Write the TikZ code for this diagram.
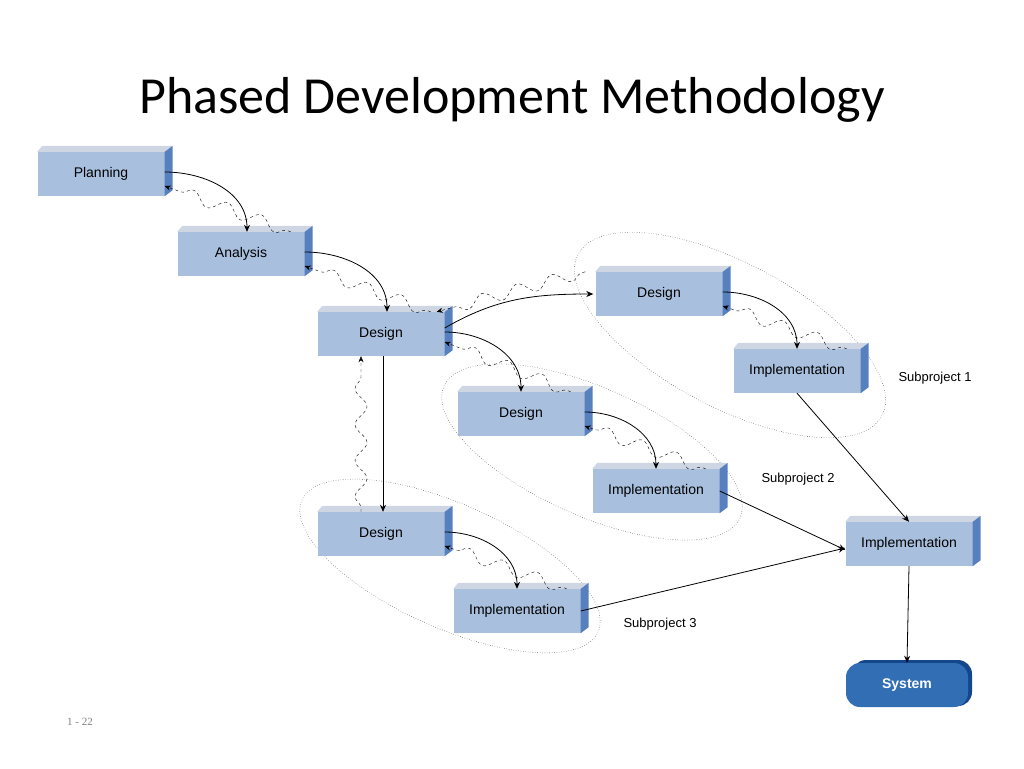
\documentclass[tikz,border=0pt]{standalone}
\usepackage{fontspec}
\setmainfont{Liberation Sans}
\newfontfamily\titlefont{Carlito}
\newfontfamily\footfont{Liberation Serif}
\usetikzlibrary{arrows.meta}
\usetikzlibrary{decorations.pathmorphing}
\definecolor{boxfront}{RGB}{168,192,222}
\definecolor{boxside}{RGB}{88,128,190}
\definecolor{boxtop}{RGB}{205,214,226}
\definecolor{sysblue}{RGB}{50,110,180}
\definecolor{sysdark}{RGB}{20,70,140}
\tikzset{
	phase/.style={rectangle,fill=boxfront,minimum width=127pt,minimum height=44pt,inner sep=0pt,font=\fontsize{14}{16}\selectfont},
	flow/.style={-{Stealth[length=7pt,width=6pt]},thick},
	back/.style={-{Stealth[length=6pt,width=5pt]},dashed,decorate,decoration={snake,amplitude=6pt,segment length=36pt,pre length=4pt,post length=6pt}},
	group/.style={dotted,thin},
	sublabel/.style={font=\fontsize{13}{15}\selectfont,anchor=west}
}
\newcommand\phasebox[3]{%
	\node [phase] (#1) at #2 {#3};
	\fill [boxtop] (#1.north west) -- ++(5,-6) -- ([shift={(8,-6)}]#1.north east) -- (#1.north east) -- cycle;
	\fill [boxside] (#1.north east) -- ([shift={(8,-6)}]#1.north east) -- ([shift={(8,-6)}]#1.south east) -- (#1.south east) -- cycle;
}
\begin{document}
\begin{tikzpicture}[x=1pt,y=-1pt]
	\useasboundingbox (0,0) rectangle (1024,768);

	%Title and footer
	\node [font=\titlefont\fontsize{52}{60}\selectfont] (title) at (512,100) {Phased Development Methodology};
	\node [font=\footfont\fontsize{11}{13}\selectfont,text=gray] (foot) at (80,722) {1 - 22};

	%Subproject groups
	\draw [group,rotate around={-28:(730,335)}] (730,335) ellipse (172 and 72);
	\draw [group,rotate around={-24:(592,452)}] (592,452) ellipse (162 and 64);
	\draw [group,rotate around={-24:(450,566)}] (450,566) ellipse (162 and 62);

	%Phases
	\phasebox{plan}{(101,174)}{Planning}
	\phasebox{ana}{(241,254)}{Analysis}
	\phasebox{des}{(381,334)}{Design}
	\phasebox{desA}{(659,294)}{Design}
	\phasebox{impA}{(797,371)}{Implementation}
	\phasebox{desB}{(521,414)}{Design}
	\phasebox{impB}{(656,491)}{Implementation}
	\phasebox{desC}{(381,534)}{Design}
	\phasebox{impC}{(517,611)}{Implementation}
	\phasebox{imp}{(909,544)}{Implementation}

	%System
	\fill [sysdark,rounded corners=14pt] (852,660) rectangle (972,706);
	\node [rectangle,rounded corners=14pt,fill=sysblue,minimum width=122pt,minimum height=44pt,text=white,font=\bfseries\fontsize{14}{16}\selectfont] (sys) at (907,685) {System};

	%Subproject labels
	\node [sublabel] (labA) at (895,378) {Subproject 1};
	\node [sublabel] (labB) at (758,479) {Subproject 2};
	\node [sublabel] (labC) at (620,624) {Subproject 3};

	%Forward flow
	\draw [flow] ([yshift=2pt]plan.east) to [out=0,in=90] ([xshift=6pt]ana.north);
	\draw [flow] ([yshift=2pt]ana.east) to [out=0,in=90] ([xshift=6pt]des.north);
	\draw [flow] ([yshift=6pt]des.east) to [out=30,in=180] ([xshift=-2pt]desA.west);
	\draw [flow] ([yshift=2pt]des.east) to [out=0,in=90] (desB.north);
	\draw [flow] ([xshift=2pt]des.south) -- ([xshift=2pt]desC.north);
	\draw [flow] ([yshift=2pt]desA.east) to [out=0,in=90] (impA.north);
	\draw [flow] ([yshift=2pt]desB.east) to [out=0,in=90] (impB.north);
	\draw [flow] ([yshift=2pt]desC.east) to [out=0,in=90] (impC.north);
	\draw [flow] (impA.south) -- (imp.north);
	\draw [flow] (impB.east) -- ([yshift=-6pt]imp.west);
	\draw [flow] (impC.east) -- ([yshift=-4pt]imp.west);
	\draw [flow] (imp.south) -- (sys.north);

	%Feedback
	\draw [back] ([xshift=-14pt]ana.north east) -- ([yshift=-12pt]plan.east);
	\draw [back] ([xshift=-14pt]des.north east) -- ([yshift=-12pt]ana.east);
	\draw [back] ([xshift=-14pt]desB.north east) -- ([yshift=-8pt]des.east);
	\draw [back] ([xshift=-10pt]desA.north west) -- ([xshift=-8pt]des.north east);
	\draw [back] ([xshift=-20pt]desC.north) -- ([xshift=-20pt]des.south);
	\draw [back] ([xshift=-14pt]impA.north east) -- ([yshift=-12pt]desA.east);
	\draw [back] ([xshift=-14pt]impB.north east) -- ([yshift=-12pt]desB.east);
	\draw [back] ([xshift=-14pt]impC.north east) -- ([yshift=-12pt]desC.east);
\end{tikzpicture}
\end{document}
